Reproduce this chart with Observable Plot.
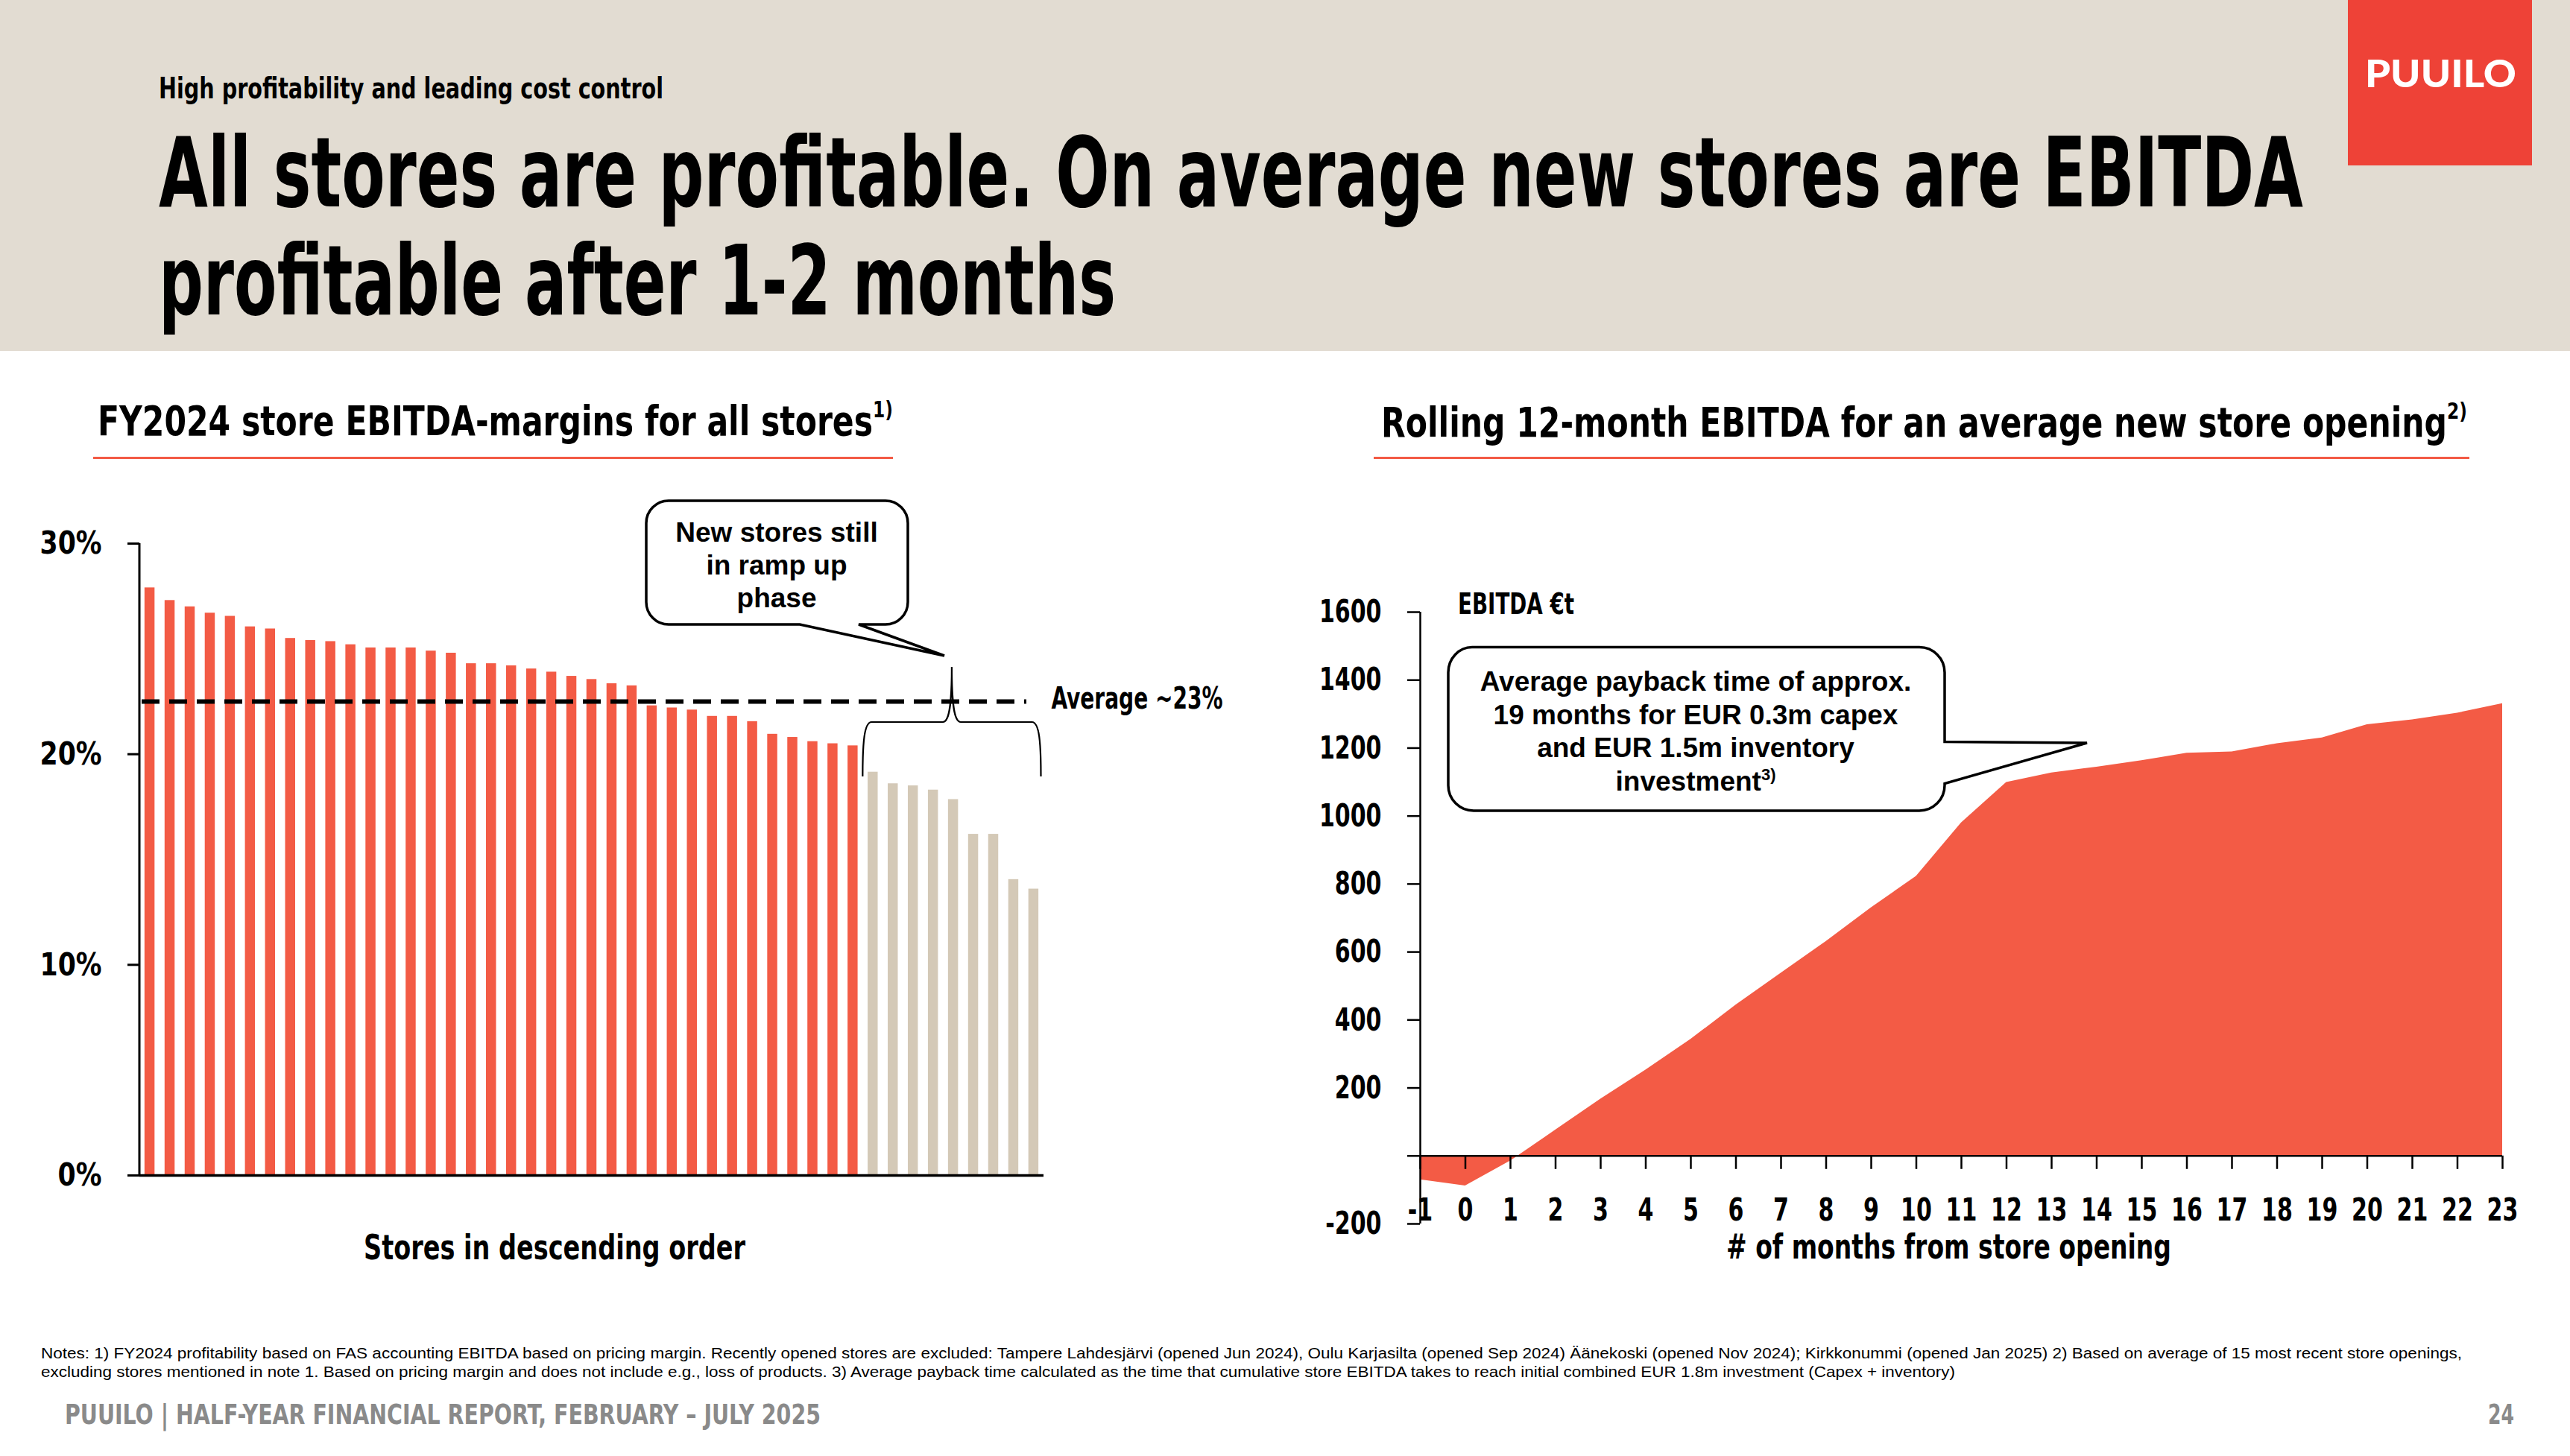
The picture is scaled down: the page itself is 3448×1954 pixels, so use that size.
<!DOCTYPE html>
<html><head><meta charset="utf-8">
<script src="https://cdn.jsdelivr.net/npm/d3@7"></script>
<script src="https://cdn.jsdelivr.net/npm/@observablehq/plot@0.6"></script>
<style>
html,body{margin:0;padding:0;background:#fff;}
#page{position:relative;width:3448px;height:1954px;overflow:hidden;background:#fff;}
.abs{position:absolute;white-space:nowrap;}
.chart{position:absolute;}
</style></head>
<body><div id="page"></div>
<script>
// ---------------- DATA ----------------
const storeRank = [1,2,3,4,5,6,7,8,9,10,11,12,13,14,15,16,17,18,19,20,21,22,23,24,25,26,27,28,29,30,31,32,33,34,35,36,37,38,39,40,41,42,43,44,45];
const storeMargin = [27.9,27.3,27.0,26.7,26.55,26.05,25.95,25.5,25.4,25.35,25.2,25.05,25.05,25.05,24.9,24.8,24.3,24.3,24.2,24.05,23.9,23.7,23.55,23.35,23.25,22.3,22.2,22.1,21.8,21.8,21.55,20.95,20.8,20.6,20.5,20.4,19.15,18.6,18.5,18.3,17.85,16.2,16.2,14.05,13.6];
const rampUpStores = [37,38,39,40,41,42,43,44,45];   // new stores still in ramp-up phase
const avgMargin = 22.5;
const avgLabel = "Average ~23%";
const marginTicks = [0,10,20,30];

const months = [-1,0,1,2,3,4,5,6,7,8,9,10,11,12,13,14,15,16,17,18,19,20,21,22,23];
const rollingEbitda = [-70,-88,-15,76,167,253,343,444,538,631,730,823,980,1099,1127,1144,1163,1185,1189,1213,1230,1269,1283,1303,1331];
const ebitdaTicks = [-200,0,200,400,600,800,1000,1200,1400,1600];
const ebitdaDomain = [-200,1600];
const monthDomain = [-1,23];

// ---------------- STYLE ----------------
const COND = '"Liberation Sans Narrow","DejaVu Sans Condensed","Liberation Sans",Arial,sans-serif';
const ARIAL = '"Liberation Sans",Arial,"DejaVu Sans",sans-serif';
const RED = "#F35B45", BEIGE = "#D4C9B7", HEAD = "#E2DCD2", LOGO = "#EE4237", GREY = "#8A8A8A";

const page = document.getElementById("page");

function box(x, y, w, h, bg) {
  const d = document.createElement("div");
  d.style.cssText = `position:absolute;left:${x}px;top:${y}px;width:${w}px;height:${h}px;background:${bg};`;
  page.appendChild(d);
  return d;
}

function addText(html, o) {
  const el = document.createElement("div");
  el.className = "abs";
  el.style.fontFamily = o.family || COND;
  el.style.fontWeight = o.weight || 700;
  el.style.fontSize = o.size + "px";
  el.style.lineHeight = "1";
  el.style.color = o.color || "#000";
  if (o.spacing) el.style.letterSpacing = o.spacing;
  el.innerHTML = html;
  const probe = document.createElement("span");
  probe.style.cssText = "display:inline-block;width:0;height:0;vertical-align:baseline;";
  el.appendChild(probe);
  page.appendChild(el);
  const nat = el.getBoundingClientRect().width;
  const k = o.w ? o.w / nat : 1;
  const w = nat * k;
  const anchor = o.anchor || "start";
  const left = anchor === "start" ? o.x : anchor === "middle" ? o.x - w / 2 : o.x - w;
  el.style.left = left + "px";
  el.style.top = (o.base - probe.offsetTop) + "px";
  el.style.transformOrigin = "0 0";
  el.style.transform = `scaleX(${k})`;
  return el;
}
const sup = s => `<span style="font-size:0.55em;position:relative;top:-0.78em;">${s}</span>`;

// ---------------- HEADER ----------------
box(0, 0, 3448, 471, HEAD);
box(3150, 0, 247, 222, LOGO);
addText("PUUILO", {x: 3173, base: 117, size: 52, w: 203, color: "#fff", family: '"Lato","Roboto","Open Sans",sans-serif', weight: 900});
addText("High profitability and leading cost control", {x: 213, base: 131.5, size: 39, w: 677});
addText("All stores are profitable. On average new stores are EBITDA", {x: 213, base: 277, size: 130, w: 2877});
addText("profitable after 1-2 months", {x: 213, base: 421.5, size: 130, w: 1284});

// section titles + underlines
addText("FY2024 store EBITDA-margins for all stores" + sup("1)"), {x: 131, base: 584, size: 55, w: 1067});
addText("Rolling 12-month EBITDA for an average new store opening" + sup("2)"), {x: 1853, base: 586, size: 55, w: 1457});
box(125, 612.5, 1073, 3.5, RED);
box(1843, 612.5, 1470, 3.5, RED);

// ---------------- LEFT CHART ----------------
const stores = storeRank.map((r, i) => ({rank: r, margin: storeMargin[i], color: rampUpStores.includes(r) ? BEIGE : RED}));
const L = {left: 0, top: 650, width: 1700, height: 1100, mL: 187, mR: 300, mT: 79, mB: 173, padIn: 0.5, padOut: 0.2545};
const xBand = d3.scaleBand(storeRank, [L.mL, L.width - L.mR]).paddingInner(L.padIn).paddingOuter(L.padOut).align(0.5);

const leftChart = Plot.plot({
  width: L.width, height: L.height,
  marginLeft: L.mL, marginRight: L.mR, marginTop: L.mT, marginBottom: L.mB,
  style: {fontFamily: COND, fontSize: "43px", fontWeight: 700, background: "transparent", overflow: "visible", color: "#000"},
  x: {type: "band", domain: storeRank, paddingInner: L.padIn, paddingOuter: L.padOut, align: 0.5, axis: null},
  y: {domain: [0, 30], axis: null},
  color: {type: "identity"},
  marks: [
    Plot.barY(stores, {x: "rank", y: "margin", fill: "color"}),
    Plot.axisY(marginTicks, {anchor: "left", tickSize: 16, tickPadding: 35, strokeWidth: 3, tickFormat: d => d + "%", label: null}),
    (index, scales, values, dims) => {
      const g = d3.create("svg:g");
      g.append("line").attr("x1", dims.marginLeft).attr("x2", dims.marginLeft)
        .attr("y1", scales.y(30)).attr("y2", scales.y(0)).attr("stroke", "#000").attr("stroke-width", 3);
      return g.node();
    },
    Plot.ruleY([0], {stroke: "#000", strokeWidth: 3.5}),
    Plot.ruleY([avgMargin], {stroke: "#000", strokeWidth: 6, strokeDasharray: "24,13", insetLeft: 3, insetRight: 23}),
    Plot.text([avgLabel], {y: () => avgMargin, text: d => d, frameAnchor: "right", textAnchor: "start", dx: 10, dy: -3, fontSize: 40})
  ]
});
const leftWrap = document.createElement("div");
leftWrap.className = "chart";
leftWrap.style.left = L.left + "px"; leftWrap.style.top = L.top + "px";
leftWrap.appendChild(leftChart);
page.appendChild(leftWrap);

// ---------------- RIGHT CHART ----------------
const rolling = months.map((m, i) => ({month: m, ebitda: rollingEbitda[i]}));
const R = {left: 1700, top: 700, width: 1748, height: 1000, mL: 205, mR: 91, mT: 121, mB: 58};
const innerH = R.height - R.mT - R.mB;
const zeroShift = -(0 - ebitdaDomain[0]) / (ebitdaDomain[1] - ebitdaDomain[0]) * innerH;

const rightChart = Plot.plot({
  width: R.width, height: R.height,
  marginLeft: R.mL, marginRight: R.mR, marginTop: R.mT, marginBottom: R.mB,
  style: {fontFamily: COND, fontSize: "43px", fontWeight: 700, background: "transparent", overflow: "visible", color: "#000"},
  x: {domain: monthDomain, axis: null},
  y: {domain: ebitdaDomain, axis: null},
  marks: [
    Plot.areaY(rolling, {x: "month", y: "ebitda", fill: RED}),
    Plot.ruleY([0], {stroke: "#000", strokeWidth: 2.5}),
    Plot.ruleX([monthDomain[0]], {y1: ebitdaDomain[0], y2: ebitdaDomain[1], stroke: "#000", strokeWidth: 2.5}),
    Plot.axisY(ebitdaTicks, {anchor: "left", tickSize: 17, tickPadding: 35, strokeWidth: 2.5, tickFormat: d => d === 0 ? "" : String(d), label: null}),
    Plot.axisX(months, {anchor: "bottom", tickSize: 18, tickPadding: 38, strokeWidth: 2.5, dy: zeroShift, tickFormat: d => String(d), label: null})
  ]
});
const rightWrap = document.createElement("div");
rightWrap.className = "chart";
rightWrap.style.left = R.left + "px"; rightWrap.style.top = R.top + "px";
rightWrap.appendChild(rightChart);
page.appendChild(rightWrap);

// condense tick labels to the reference's condensed face
function condense(svg, refText, refWidth, extra) {
  const texts = [...svg.querySelectorAll('g[aria-label$="tick label"] text')];
  const ref = texts.find(t => t.textContent === refText);
  if (!ref) return;
  const k = refWidth / ref.getComputedTextLength();
  texts.forEach(t => {
    const len = t.getComputedTextLength();
    if (len > 0) { t.setAttribute("textLength", len * k); t.setAttribute("lengthAdjust", "spacingAndGlyphs"); }
  });
  if (extra) extra.forEach(([t, w]) => { t.setAttribute("textLength", w); t.setAttribute("lengthAdjust", "spacingAndGlyphs"); });
}
const avgText = [...leftChart.querySelectorAll("text")].find(t => t.textContent === avgLabel);
condense(leftChart, "30%", 83, avgText ? [[avgText, 230]] : null);
condense(rightChart, "1600", 83.6);

// axis titles
addText("Stores in descending order", {x: 744, base: 1690, size: 46, w: 512, anchor: "middle"});
addText("# of months from store opening", {x: 2316, base: 1689, size: 46, w: 597});
addText("EBITDA €t", {x: 1956, base: 824, size: 39, w: 156});

// ---------------- ANNOTATIONS (callouts, brace) ----------------
const ov = d3.select(page).append("svg")
  .attr("width", 3448).attr("height", 1954)
  .style("position", "absolute").style("left", 0).style("top", 0).style("overflow", "visible");

// brace over ramp-up stores, horizontally anchored to the band scale
const step = xBand.step(), bw = xBand.bandwidth(), gap = step - bw;
const bL = xBand(rampUpStores[0]) - gap / 2;
const bR = xBand(rampUpStores[rampUpStores.length - 1]) + bw + gap / 4;
const bP = (bL + bR) / 2, yB = 1042, yM = 969, yP = 895;
ov.append("path")
  .attr("d", `M${bL},${yB} C${bL},${yB-45} ${bL+2},${yM} ${bL+12},${yM} H${bP-12} C${bP-3},${yM} ${bP},${yM-25} ${bP},${yP} C${bP},${yM-25} ${bP+3},${yM} ${bP+12},${yM} H${bR-12} C${bR-2},${yM} ${bR},${yB-45} ${bR},${yB}`)
  .attr("fill", "none").attr("stroke", "#000").attr("stroke-width", 2.2);

// left callout
ov.append("path")
  .attr("d", "M897,672 H1188 A30,30 0 0 1 1218,702 V808 A30,30 0 0 1 1188,838 H1152 L1267,880 L1073,838 H897 A30,30 0 0 1 867,808 V702 A30,30 0 0 1 897,672 Z")
  .attr("fill", "#fff").attr("stroke", "#000").attr("stroke-width", 3.5).attr("stroke-linejoin", "miter");
const leftCallout = ["New stores still", "in ramp up", "phase"];
const leftBase = [726.5, 771, 815];
leftCallout.forEach((s, i) => ov.append("text").attr("x", 1042).attr("y", leftBase[i])
  .attr("text-anchor", "middle").attr("font-family", ARIAL).attr("font-weight", 700).attr("font-size", 37).text(s));

// right callout
ov.append("path")
  .attr("d", "M1975,868.5 H2575 A34,34 0 0 1 2609,902.5 V995.5 L2800,997 L2609,1051.5 V1054 A34,34 0 0 1 2575,1088 H1977 A34,34 0 0 1 1943,1054 V902.5 A32,34 0 0 1 1975,868.5 Z")
  .attr("fill", "#fff").attr("stroke", "#000").attr("stroke-width", 3.5);
const rightCallout = ["Average payback time of approx.", "19 months for EUR 0.3m capex", "and EUR 1.5m inventory"];
const rightBase = [927, 971.5, 1016, 1060.5];
rightCallout.forEach((s, i) => ov.append("text").attr("x", 2275).attr("y", rightBase[i])
  .attr("text-anchor", "middle").attr("font-family", ARIAL).attr("font-weight", 700).attr("font-size", 37).text(s));
const inv = ov.append("text").attr("x", 2275).attr("y", rightBase[3])
  .attr("text-anchor", "middle").attr("font-family", ARIAL).attr("font-weight", 700).attr("font-size", 37);
inv.append("tspan").text("investment");
inv.append("tspan").attr("font-size", 22).attr("dy", -14).text("3)");

// ---------------- NOTES & FOOTER ----------------
addText("Notes: 1) FY2024 profitability based on FAS accounting EBITDA based on pricing margin. Recently opened stores are excluded: Tampere Lahdesjärvi (opened Jun 2024), Oulu Karjasilta (opened Sep 2024) Äänekoski (opened Nov 2024); Kirkkonummi (opened Jan 2025) 2) Based on average of 15 most recent store openings,",
  {x: 55, base: 1823, size: 21, w: 3248, family: ARIAL, weight: 400});
addText("excluding stores mentioned in note 1. Based on pricing margin and does not include e.g., loss of products. 3) Average payback time calculated as the time that cumulative store EBITDA takes to reach initial combined EUR 1.8m investment (Capex + inventory)",
  {x: 55, base: 1847.5, size: 21, w: 2568, family: ARIAL, weight: 400});
addText("PUUILO | HALF-YEAR FINANCIAL REPORT, FEBRUARY – JULY 2025", {x: 87, base: 1911, size: 38, w: 1014, color: GREY});
addText("24", {x: 3373, base: 1911, size: 38, w: 35, color: GREY, anchor: "end"});
</script>
</body></html>
